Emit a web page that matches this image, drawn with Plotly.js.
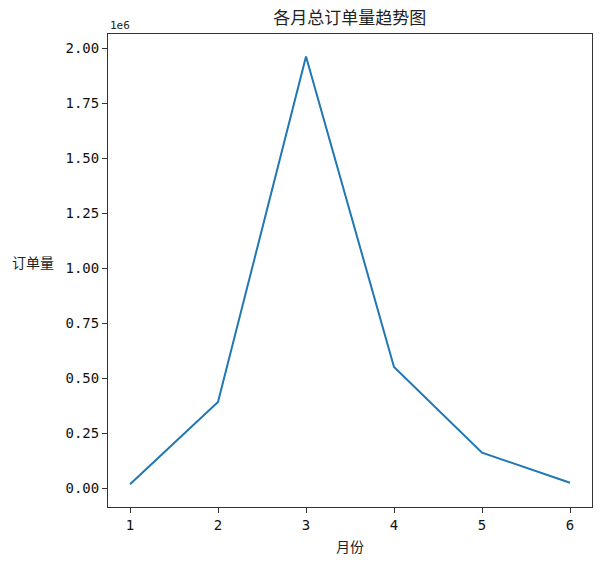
<!DOCTYPE html>
<html>
<head>
<meta charset="utf-8">
<script src="https://cdn.plot.ly/plotly-3.0.1.min.js"></script>
<style>html,body{margin:0;padding:0;background:#fff;}#chart{width:600px;height:563px;}</style>
</head>
<body>
<div id="chart"></div>
<script>
const months = [1, 2, 3, 4, 5, 6];
const orders = [17000, 391000, 1962000, 550000, 161000, 24500];
const tickVals = [0, 250000, 500000, 750000, 1000000, 1250000, 1500000, 1750000, 2000000];
const tickText = ["0.00", "0.25", "0.50", "0.75", "1.00", "1.25", "1.50", "1.75", "2.00"];
const titleText = "各月总订单量趋势图";
const xTitle = "月份";
const yTitle = "订单量";
const offsetText = "1e6";

const font = "'Noto Sans CJK SC', 'DejaVu Sans', sans-serif";
const tickFont = "'DejaVu Sans Mono', 'Liberation Mono', monospace";
const axisCommon = {
  showline: true, mirror: true, linecolor: '#333', linewidth: 1,
  ticks: 'outside', ticklen: 5, tickcolor: '#333', tickwidth: 1,
  showgrid: false, zeroline: false,
  tickfont: {family: tickFont, size: 14, color: '#111'}
};
Plotly.newPlot('chart', [{
  x: months, y: orders, type: 'scatter', mode: 'lines',
  line: {color: '#1f77b4', width: 2}
}], {
  width: 600, height: 563,
  margin: {l: 108, r: 8, t: 34, b: 56},
  paper_bgcolor: '#fff', plot_bgcolor: '#fff',
  showlegend: false,
  title: {text: titleText, x: 0.583, xanchor: 'center', y: 0.968, yanchor: 'middle',
          font: {family: font, size: 17, color: '#222'}},
  xaxis: Object.assign({}, axisCommon, {
    range: [0.75, 6.25], tickvals: months, ticktext: months.map(String),
    title: {text: xTitle, font: {family: font, size: 14, color: '#222'}, standoff: 10}
  }),
  yaxis: Object.assign({}, axisCommon, {
    range: [-86000, 2064000], tickvals: tickVals, ticktext: tickText
  }),
  annotations: [
    {text: yTitle, xref: 'paper', yref: 'paper', x: -0.202, y: 0.518, xanchor: 'left', yanchor: 'middle',
     showarrow: false, font: {family: font, size: 14, color: '#222'}},
    {text: offsetText, xref: 'paper', yref: 'paper', x: 0, y: 1, xanchor: 'left', yanchor: 'bottom',
     showarrow: false, font: {family: tickFont, size: 11, color: '#222'}}
  ]
}, {displayModeBar: false, staticPlot: true});
</script>
</body>
</html>
